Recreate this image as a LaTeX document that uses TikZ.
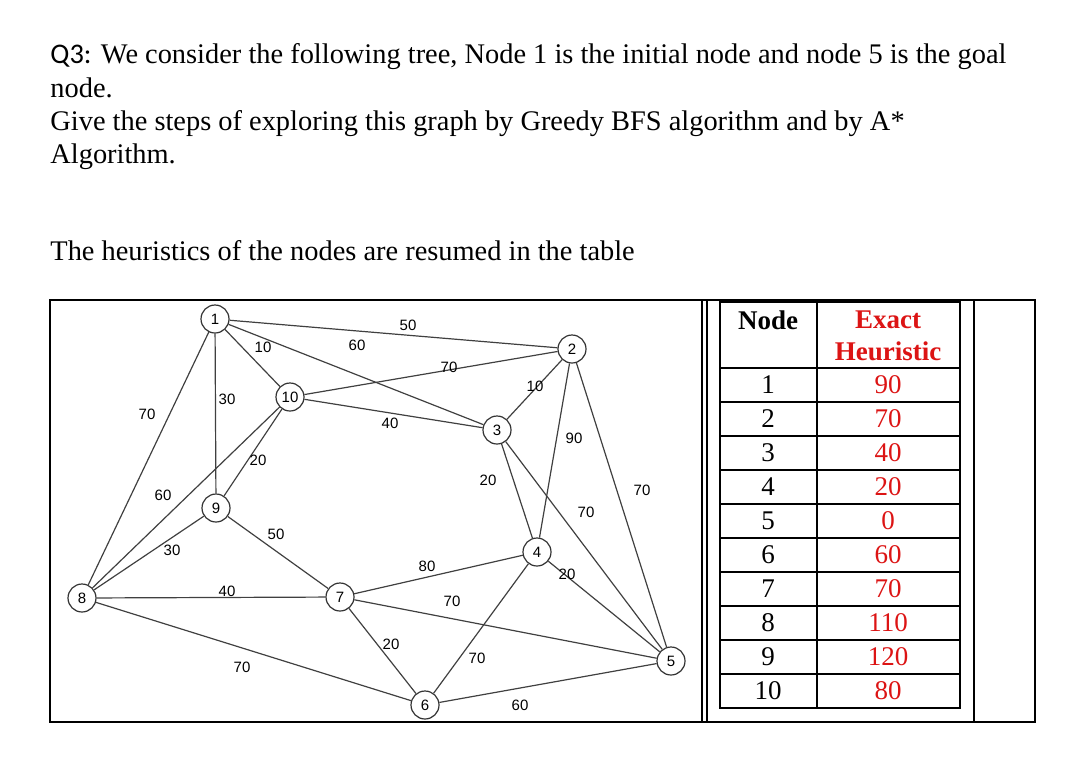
\documentclass[tikz,border=0pt]{standalone}
\usepackage{fontspec}
\setmainfont{Liberation Serif}
\newfontfamily\graphfont{Liberation Sans}
\newfontfamily\qfont{Carlito}
\definecolor{heured}{RGB}{220,20,20}
\begin{document}
\begin{tikzpicture}[x=0.5pt,y=-0.5pt,
    vert/.style={circle,draw=black!80,semithick,inner sep=1pt,minimum size=14pt,font=\graphfont\fontsize{7.5}{8}\selectfont},
    wlab/.style={font=\graphfont\fontsize{7.5}{8}\selectfont,inner sep=0pt},
    line/.style={draw=black!75,semithick},
    txt/.style={anchor=base west,inner sep=0pt,font=\fontsize{14.2}{16}\selectfont},
    cell/.style={font=\fontsize{13.5}{16}\selectfont,inner sep=0pt}]
    \useasboundingbox (0,0) rectangle (1080,778);
    % question text
    \node[txt] (q1) at (50,63) {{\qfont Q3:} We consider the following tree, Node 1 is the initial node and node 5 is the goal};
    \node[txt] (q2) at (50,97) {node.};
    \node[txt] (q3) at (50,130) {Give the steps of exploring this graph by Greedy BFS algorithm and by A*};
    \node[txt] (q4) at (50,163) {Algorithm.};
    \node[txt] (q5) at (50,260) {The heuristics of the nodes are resumed in the table};
    % frames
    \draw[thick] (50,300) rectangle (1035,722);
    \draw[thick] (702,300) -- (702,722);
    \draw[thick] (707,300) -- (707,722);
    \draw[thick] (974,300) -- (974,722);
    % graph
    \node[vert] (n1) at (215,319) {1};
    \node[vert] (n2) at (572,349) {2};
    \node[vert] (n10) at (290,397) {10};
    \node[vert] (n3) at (497,430) {3};
    \node[vert] (n9) at (216,508) {9};
    \node[vert] (n4) at (537,552) {4};
    \node[vert] (n8) at (82,598) {8};
    \node[vert] (n7) at (340,597) {7};
    \node[vert] (n5) at (671,661) {5};
    \node[vert] (n6) at (425,705) {6};
    \foreach \a/\b in {1/2,1/3,1/10,10/2,1/9,1/8,10/3,2/3,2/4,10/9,8/10,3/4,3/5,2/5,
        9/7,8/9,7/4,4/5,8/7,7/5,7/6,4/6,8/6,6/5}
        \draw[line] (n\a) -- (n\b);
    \foreach \w/\x/\y in {50/408/325,60/357/345,10/263/347,70/449/367,30/227/399,70/147/414,
        40/390/423,10/535/386,90/574/438,20/258/460,60/163/495,20/488/480,70/586/512,
        70/642/490,50/276/534,30/172/550,80/427/566,20/567/574,40/227/591,70/452/601,
        20/391/644,70/477/658,70/242/667,60/520/705}
        \node[wlab] at (\x,\y) {\w};
    % table
    \draw[thick] (720,302) rectangle (960,708);
    \draw[thick] (817,302) -- (817,708);
    \foreach \r in {0,...,9}
        \draw[thick] (720,368+34*\r) -- (960,368+34*\r);
    \node[cell,font=\fontsize{13.5}{16}\selectfont\bfseries] (hnode) at (768,320) {Node};
    \node[cell,text=heured,align=center,font=\fontsize{13.5}{16}\selectfont\bfseries] (hval) at (888,336) {Exact\\Heuristic};
    \foreach \n/\h in {1/90,2/70,3/40,4/20,5/0,6/60,7/70,8/110,9/120,10/80} {
        \node[cell] (r\n) at (768,351+34*\n) {\n};
        \node[cell,text=heured] (v\n) at (888,351+34*\n) {\h};
    }
\end{tikzpicture}
\end{document}
